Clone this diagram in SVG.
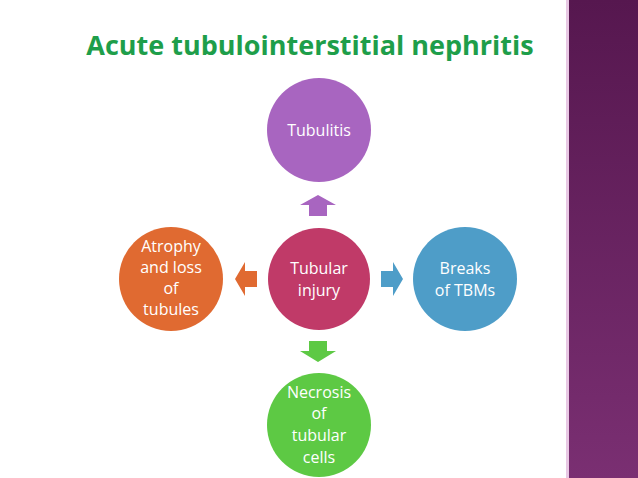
<svg xmlns="http://www.w3.org/2000/svg" width="638" height="478" viewBox="0 0 638 478">
<defs><linearGradient id="band" x1="0" y1="0" x2="0" y2="1"><stop offset="0" stop-color="#56174f"/><stop offset="1" stop-color="#7a2f72"/></linearGradient></defs>
<style>.t{font-family:"Open Sans","Liberation Sans",sans-serif;font-size:16px;fill:#fff;text-anchor:middle}</style>
<rect width="638" height="478" fill="#fff"/>
<rect x="566" y="0" width="3" height="478" fill="#e8c8e4"/>
<rect x="569" y="0" width="69" height="478" fill="url(#band)"/>
<text x="310" y="55" font-family="'Open Sans','Liberation Sans',sans-serif" font-weight="bold" font-size="27" fill="#1e9e4a" text-anchor="middle">Acute tubulointerstitial nephritis</text>
<g id="connectors">
<polygon points="318,195 336,205 327,205 327,216 309,216 309,205 300,205" fill="#a865c0"/>
<polygon points="318,362 336,351 327,351 327,341 309,341 309,351 300,351" fill="#5dc944"/>
<polygon points="235,279 245,262 245,271 257,271 257,287 245,287 245,296" fill="#e06a31"/>
<polygon points="403,279 393,262 393,271 381,271 381,287 393,287 393,296" fill="#4e9dc8"/>
</g>
<g id="center"><circle cx="319" cy="279" r="51" fill="#c03a68"/><text class="t" x="319" y="274">Tubular</text><text class="t" x="319" y="296">injury</text></g>
<g id="top"><circle cx="319" cy="130" r="52" fill="#a865c0"/><text class="t" x="319" y="136">Tubulitis</text></g>
<g id="right"><circle cx="465" cy="279" r="52" fill="#4e9dc8"/><text class="t" x="465" y="274">Breaks</text><text class="t" x="465" y="296">of TBMs</text></g>
<g id="left"><circle cx="171" cy="279" r="52" fill="#e06a31"/><text class="t" x="171" y="252">Atrophy</text><text class="t" x="171" y="273">and loss</text><text class="t" x="171" y="294">of</text><text class="t" x="171" y="315">tubules</text></g>
<g id="bottom"><circle cx="319" cy="425" r="52" fill="#5dc944"/><text class="t" x="319" y="398">Necrosis</text><text class="t" x="319" y="419">of</text><text class="t" x="319" y="441">tubular</text><text class="t" x="319" y="463">cells</text></g>
</svg>
